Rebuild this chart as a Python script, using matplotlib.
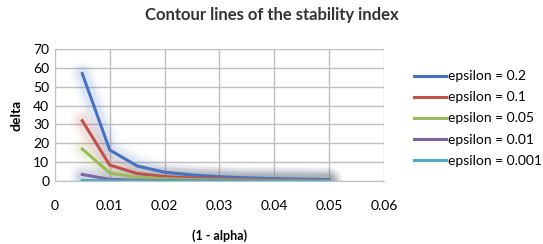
import matplotlib.pyplot as plt
import numpy as np

x = [0.005, 0.01, 0.015, 0.02, 0.025, 0.03, 0.035, 0.04, 0.045, 0.05]
series_labels = ["epsilon = 0.2", "epsilon = 0.1", "epsilon = 0.05", "epsilon = 0.01", "epsilon = 0.001"]
eps_02 = [57, 16.5, 8, 4.7, 3.2, 2.3, 1.7, 1.3, 1.0, 0.8]
eps_01 = [32, 8.5, 4, 2.4, 1.6, 1.2, 0.9, 0.7, 0.55, 0.45]
eps_005 = [17, 4.3, 2, 1.2, 0.8, 0.6, 0.45, 0.35, 0.28, 0.22]
eps_001 = [3.5, 0.9, 0.4, 0.25, 0.17, 0.12, 0.09, 0.07, 0.06, 0.05]
eps_0001 = [0.35, 0.09, 0.04, 0.025, 0.017, 0.012, 0.009, 0.007, 0.006, 0.005]
values = [eps_02, eps_01, eps_005, eps_001, eps_0001]
colors = ["#4472C4", "#C0504D", "#9BBB59", "#8064A2", "#4BACC6"]
xticks = [0, 0.01, 0.02, 0.03, 0.04, 0.05, 0.06]
yticks = [0, 10, 20, 30, 40, 50, 60, 70]

plt.rcParams['font.family'] = ['Lato', 'DejaVu Sans']
fig = plt.figure(figsize=(5.43, 2.44), dpi=100)
ax = fig.add_axes([0.101, 0.258, 0.606, 0.541])

# glow
for vals, c in zip(values, colors):
    for lw, a in [(18, 0.04), (13, 0.06), (9, 0.08)]:
        ax.plot(x, vals, color=c, lw=lw, alpha=a, solid_capstyle='round', solid_joinstyle='round')
for vals, c, lab in zip(values, colors, series_labels):
    ax.plot(x, vals, color=c, lw=2.2, label=lab, solid_joinstyle='round')

ax.set_xlim(0, 0.06)
ax.set_ylim(0, 70)
ax.set_xticks(xticks)
ax.set_xticklabels(["0", "0.01", "0.02", "0.03", "0.04", "0.05", "0.06"])
ax.set_yticks(yticks)
ax.grid(True, color="#BFBFBF", lw=1)
ax.set_axisbelow(True)
for s in ["top", "right"]:
    ax.spines[s].set_visible(False)
for s in ["left", "bottom"]:
    ax.spines[s].set_color("#BFBFBF")
ax.tick_params(length=0, labelsize=10)
ax.tick_params(axis='x', pad=14)
ax.tick_params(axis='y', pad=4)

ax.set_xlabel("(1 - alpha)", fontsize=9, fontweight='bold', labelpad=12)
ax.set_ylabel("delta", fontsize=10, fontweight='bold', labelpad=8)
fig.text(0.5, 0.94, "Contour lines of the stability index", ha='center', va='center',
         fontsize=12, fontweight='bold', color="#333333")

leg = ax.legend(loc='upper left', bbox_to_anchor=(1.075, 0.88), frameon=False, fontsize=10,
                handlelength=2.3, handletextpad=0.15, labelspacing=0.65, borderaxespad=0)
fig.savefig("out.png", dpi=100)
